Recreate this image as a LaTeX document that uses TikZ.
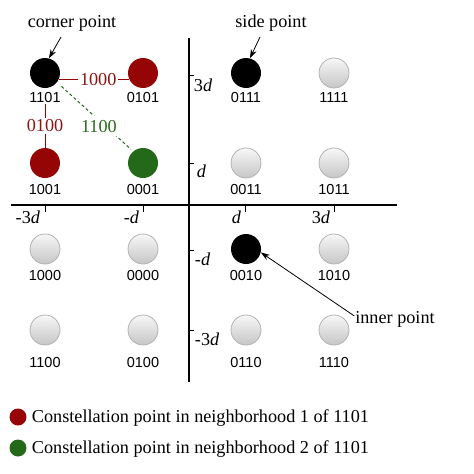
\documentclass[tikz,border=0pt]{standalone}
\usepackage{fontspec}
\setmainfont{Liberation Serif}
\newfontfamily\bitfont{Liberation Sans}
\usetikzlibrary{arrows.meta}
\definecolor{nbred}{RGB}{150,5,5}
\definecolor{nbgreen}{RGB}{35,105,25}
\definecolor{lblred}{RGB}{140,20,20}
\definecolor{lblgreen}{RGB}{40,105,30}
\tikzset{
  pt/.style={circle, minimum size=30pt, inner sep=0pt},
  greypt/.style={pt, draw=gray!60, line width=0.8pt, top color=gray!6, bottom color=gray!45},
  blackpt/.style={pt, fill=black},
  redpt/.style={pt, fill=nbred},
  greenpt/.style={pt, fill=nbgreen},
  legpt/.style={circle, minimum size=17pt, inner sep=0pt},
  bits/.style={font=\bitfont\fontsize{14.5}{16}\selectfont, inner sep=0.75pt},
  txt/.style={font=\fontsize{18.2}{21}\selectfont, inner sep=0.75pt},
  hlbl/.style={txt, anchor=base east},
  vlbl/.style={txt, anchor=base west},
  pointer/.style={line width=0.8pt, -{Stealth[length=9pt,width=6pt]}}
}
\begin{document}
\begin{tikzpicture}[x=1pt,y=1pt,yscale=-1,xscale=1]
        \useasboundingbox (0,0) rectangle (474,474);
        % axes
        \draw [line width=1.3pt] (11,205) -- (397,205);
        \draw [line width=1.3pt] (189,38) -- (189,382);
        \draw [line width=0.8pt] (45,205) -- (45,212);
        \draw [line width=0.8pt] (143,205) -- (143,212);
        \draw [line width=0.8pt] (245,205) -- (245,212);
        \draw [line width=0.8pt] (334,205) -- (334,212);
        \draw [line width=0.8pt] (189,75) -- (194,75);
        \draw [line width=0.8pt] (189,163) -- (194,163);
        \draw [line width=0.8pt] (189,250) -- (194,250);
        \draw [line width=0.8pt] (189,330) -- (194,330);
        \node [hlbl] (xa) at (41,223) {-3\textit{d}};
        \node [hlbl] (xb) at (140,223) {-\textit{d}};
        \node [hlbl] (xc) at (242,223) {\textit{d}};
        \node [hlbl] (xd) at (331,223) {3\textit{d}};
        \node [vlbl] (ya) at (193,91) {3\textit{d}};
        \node [vlbl] (yb) at (196,177) {\textit{d}};
        \node [vlbl] (yc) at (194,265) {-\textit{d}};
        \node [vlbl] (yd) at (194,345) {-3\textit{d}};

        % constellation points
        \node [blackpt] (p1101) at (45,73) {};
        \node [redpt] (p0101) at (143,73) {};
        \node [blackpt] (p0111) at (246,73) {};
        \node [greypt] (p1111) at (334,73) {};
        \node [redpt] (p1001) at (45,163) {};
        \node [greenpt] (p0001) at (143,163) {};
        \node [greypt] (p0011) at (246,163) {};
        \node [greypt] (p1011) at (334,163) {};
        \node [greypt] (p1000) at (45,249) {};
        \node [greypt] (p0000) at (143,249) {};
        \node [blackpt] (p0010) at (246,249) {};
        \node [greypt] (p1010) at (334,249) {};
        \node [greypt] (p1100) at (45,330) {};
        \node [greypt] (p0100) at (143,330) {};
        \node [greypt] (p0110) at (246,330) {};
        \node [greypt] (p1110) at (334,330) {};

        \node [bits] (b1101) at (45,98) {1101};
        \node [bits] (b0101) at (143,98) {0101};
        \node [bits] (b0111) at (246,98) {0111};
        \node [bits] (b1111) at (334,98) {1111};
        \node [bits] (b1001) at (45,190) {1001};
        \node [bits] (b0001) at (143,190) {0001};
        \node [bits] (b0011) at (246,190) {0011};
        \node [bits] (b1011) at (334,190) {1011};
        \node [bits] (b1000) at (45,276) {1000};
        \node [bits] (b0000) at (143,276) {0000};
        \node [bits] (b0010) at (246,276) {0010};
        \node [bits] (b1010) at (334,276) {1010};
        \node [bits] (b1100) at (45,363) {1100};
        \node [bits] (b0100) at (143,363) {0100};
        \node [bits] (b0110) at (246,363) {0110};
        \node [bits] (b1110) at (334,363) {1110};

        % neighbourhood links of 1101
        \draw [nbred, line width=1pt] (p1101.-25) -- node [txt, fill=white, text=lblred, inner sep=2pt, pos=0.56] {1000} (p0101.205);
        \draw [nbred, line width=1pt] (b1101.south) -- node [txt, fill=white, text=lblred, inner sep=2pt] {0100} (p1001.north);
        \draw [nbgreen, line width=1pt, dash pattern=on 3pt off 2.5pt, shorten <=6pt, shorten >=3pt] (p1101.-38) -- node [txt, fill=white, text=lblgreen, inner sep=4pt, pos=0.55, yshift=-6pt] {1100} (p0001.130);

        % annotations
        \node [txt] (cornerlbl) at (72,23) {corner point};
        \coordinate (cornertail) at (61,37);
        \draw [pointer] (cornertail) -- (p1101.75);
        \node [txt] (sidelbl) at (271,23) {side point};
        \coordinate (sidetail) at (260,37);
        \draw [pointer] (sidetail) -- (p0111.75);
        \node [txt] (innerlbl) at (395,319) {inner point};
        \draw [pointer] (innerlbl.west |- 0,316) -- (p0010.-13);

        % legend
        \node [legpt, fill=nbred] (legred) at (18,417) {};
        \node [txt, anchor=west] (legredtxt) at (31,418) {Constellation point in neighborhood 1 of 1101};
        \node [legpt, fill=nbgreen] (leggreen) at (18,448) {};
        \node [txt, anchor=west] (leggreentxt) at (31,449) {Constellation point in neighborhood 2 of 1101};
\end{tikzpicture}
\end{document}
